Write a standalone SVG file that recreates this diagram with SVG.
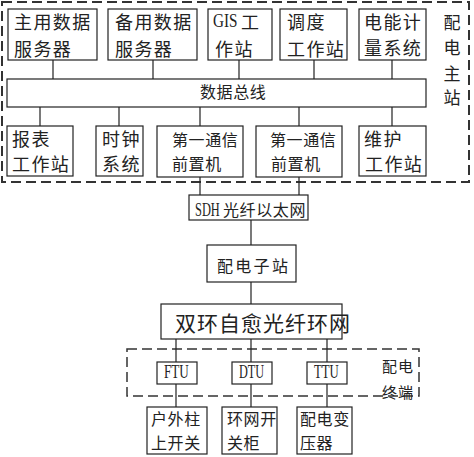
<svg xmlns="http://www.w3.org/2000/svg" width="474" height="457" viewBox="0 0 474 457">
<style>
.box{fill:#fff;stroke:#222;stroke-width:1.2}
.ln{stroke:#222;stroke-width:1.2;fill:none}
.dash{fill:none;stroke:#333;stroke-width:2;stroke-dasharray:10 5}
.dash2{fill:none;stroke:#333;stroke-width:1.5;stroke-dasharray:10 5}
text{font-family:"Noto Sans CJK SC",sans-serif;fill:#222}
.t18{font-size:18px;letter-spacing:1.4px}
.t16{font-size:16px;letter-spacing:0.6px}
.lat{font-family:"Liberation Serif","Noto Sans CJK SC",serif;font-size:18px}
</style>
<rect width="474" height="457" fill="#fff"/>
<rect class="dash" x="2" y="2" width="467" height="180"/>
<rect class="dash2" x="127" y="349" width="292" height="47"/>
<g id="connectors">
<path class="ln" d="M53 60V79M153 60V79M239 60V79M314 60V79M392 60V79"/>
<path class="ln" d="M40 107V126M119 107V126M200 107V126M299 107V126M392 107V126"/>
<path class="ln" d="M200 177V195M299 177V195"/>
<path class="ln" d="M251 220V245M251 282V304"/>
<path class="ln" d="M176 339V362M251 339V362M327 339V362"/>
<path class="ln" d="M176 384V407M251 384V407M327 384V407"/>
</g>
<g id="n_main"><rect class="box" x="8" y="9" width="89" height="51"/><text class="t18" x="14" y="29">主用数据</text><text class="t18" x="14" y="56">服务器</text></g>
<g id="n_backup"><rect class="box" x="108" y="9" width="89" height="51"/><text class="t18" x="115" y="29">备用数据</text><text class="t18" x="115" y="56">服务器</text></g>
<g id="n_gis"><rect class="box" x="208" y="9" width="64" height="51"/><text class="lat" transform="translate(213,27) scale(0.8,1)" style="font-size:19px">GIS</text><text class="t18" x="241" y="29">工</text><text class="t18" x="215" y="56">作站</text></g>
<g id="n_dispatch"><rect class="box" x="280" y="9" width="67" height="51"/><text class="t18" x="287" y="29">调度</text><text class="t18" x="287" y="56">工作站</text></g>
<g id="n_meter"><rect class="box" x="359" y="9" width="67" height="51"/><text class="t18" x="364" y="29">电能计</text><text class="t18" x="364" y="55">量系统</text></g>
<g id="n_bus"><rect class="box" x="7" y="79" width="419" height="28"/><text class="t16" x="200" y="98">数据总线</text></g>
<g id="n_report"><rect class="box" x="7" y="126" width="66" height="50"/><text class="t18" x="12" y="146">报表</text><text class="t18" x="12" y="171">工作站</text></g>
<g id="n_clock"><rect class="box" x="96" y="126" width="47" height="50"/><text class="t18" x="102" y="146">时钟</text><text class="t18" x="102" y="171">系统</text></g>
<g id="n_fep1"><rect class="box" x="157" y="126" width="86" height="51"/><text class="t16" x="172" y="146">第一通信</text><text class="t16" x="172" y="170">前置机</text></g>
<g id="n_fep2"><rect class="box" x="256" y="126" width="86" height="51"/><text class="t16" x="270" y="146">第一通信</text><text class="t16" x="271" y="170">前置机</text></g>
<g id="n_maint"><rect class="box" x="359" y="126" width="67" height="50"/><text class="t18" x="364" y="146">维护</text><text class="t18" x="365" y="171">工作站</text></g>
<g id="n_master_label"><text font-size="17" text-anchor="middle" x="452" y="29">配</text><text font-size="17" text-anchor="middle" x="452" y="54">电</text><text font-size="17" text-anchor="middle" x="452" y="80">主</text><text font-size="17" text-anchor="middle" x="452" y="104">站</text></g>
<g id="n_sdh"><rect class="box" x="189" y="195" width="119" height="25"/><text class="lat" transform="translate(195,216) scale(0.69,1)">SDH</text><text x="223" y="216" font-size="16" letter-spacing="0.6">光纤以太网</text></g>
<g id="n_sub"><rect class="box" x="207" y="245" width="89" height="37"/><text x="217" y="272" font-size="16" letter-spacing="2.3">配电子站</text></g>
<g id="n_ring"><rect class="box" x="161" y="304" width="181" height="35"/><text x="175" y="331" font-size="21" letter-spacing="1">双环自愈光纤环网</text></g>
<g id="n_term_label"><text x="382" y="372" font-size="15" letter-spacing="1">配电</text><text x="382" y="398" font-size="15" letter-spacing="1">终端</text></g>
<g id="n_ftu"><rect class="box" x="157" y="362" width="40" height="22"/><text class="lat" transform="translate(164,378) scale(0.73,1)">FTU</text></g>
<g id="n_dtu"><rect class="box" x="232" y="362" width="40" height="22"/><text class="lat" transform="translate(239,378) scale(0.68,1)">DTU</text></g>
<g id="n_ttu"><rect class="box" x="307" y="362" width="40" height="22"/><text class="lat" transform="translate(314,378) scale(0.71,1)">TTU</text></g>
<g id="n_pole"><rect class="box" x="147" y="407" width="60" height="47"/><text x="151" y="425" font-size="16" letter-spacing="0.6">户外柱</text><text x="151" y="449" font-size="16" letter-spacing="0.6">上开关</text></g>
<g id="n_ringmain"><rect class="box" x="222" y="407" width="55" height="47"/><text x="227" y="425" font-size="16" letter-spacing="0.6">环网开</text><text x="227" y="449" font-size="16" letter-spacing="0.6">关柜</text></g>
<g id="n_trans"><rect class="box" x="297" y="407" width="55" height="47"/><text x="300" y="425" font-size="16" letter-spacing="0.6">配电变</text><text x="300" y="449" font-size="16" letter-spacing="0.6">压器</text></g>
</svg>
